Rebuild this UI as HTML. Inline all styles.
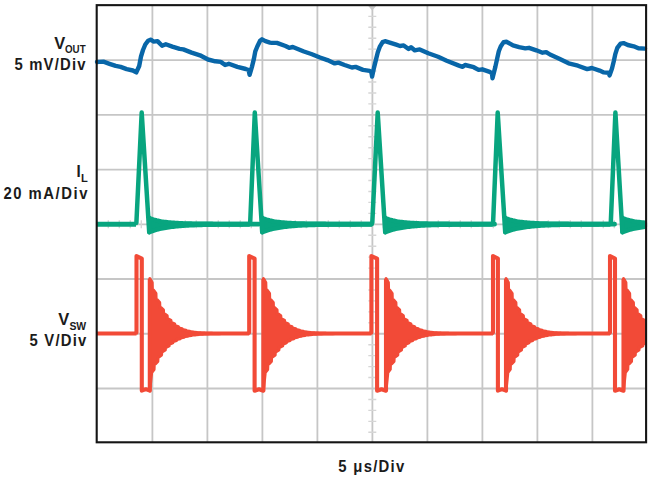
<!DOCTYPE html>
<html><head><meta charset="utf-8"><style>
html,body{margin:0;padding:0;background:#fff;width:651px;height:480px;overflow:hidden}
svg{display:block}
text{font-family:"Liberation Sans",sans-serif}
</style></head><body>
<svg width="651" height="480" viewBox="0 0 651 480">
<path d="M152.4 5.15V442.3M207.4 5.15V442.3M262.4 5.15V442.3M317.4 5.15V442.3M372.4 5.15V442.3M427.4 5.15V442.3M482.4 5.15V442.3M537.4 5.15V442.3M592.4 5.15V442.3M96.7 60.1H646.1M96.7 114.83H646.1M96.7 169.56H646.1M96.7 224.29H646.1M96.7 279.02H646.1M96.7 333.75H646.1M96.7 388.48H646.1" stroke="#c6c6c6" stroke-width="1.8" fill="none"/><path d="M368.3 16.33H376.3M368.3 27.27H376.3M368.3 38.22H376.3M368.3 49.16H376.3M368.3 71.06H376.3M368.3 82H376.3M368.3 92.95H376.3M368.3 103.89H376.3M368.3 125.79H376.3M368.3 136.73H376.3M368.3 147.68H376.3M368.3 158.62H376.3M368.3 180.52H376.3M368.3 191.46H376.3M368.3 202.41H376.3M368.3 213.35H376.3M368.3 235.25H376.3M368.3 246.19H376.3M368.3 257.14H376.3M368.3 268.08H376.3M368.3 289.98H376.3M368.3 300.92H376.3M368.3 311.87H376.3M368.3 322.81H376.3M368.3 344.71H376.3M368.3 355.65H376.3M368.3 366.6H376.3M368.3 377.54H376.3M368.3 399.44H376.3M368.3 410.38H376.3M368.3 421.33H376.3M368.3 432.27H376.3M108.3 220.3V228.3M119.3 220.3V228.3M130.3 220.3V228.3M141.3 220.3V228.3M163.3 220.3V228.3M174.3 220.3V228.3M185.3 220.3V228.3M196.3 220.3V228.3M218.3 220.3V228.3M229.3 220.3V228.3M240.3 220.3V228.3M251.3 220.3V228.3M273.3 220.3V228.3M284.3 220.3V228.3M295.3 220.3V228.3M306.3 220.3V228.3M328.3 220.3V228.3M339.3 220.3V228.3M350.3 220.3V228.3M361.3 220.3V228.3M383.3 220.3V228.3M394.3 220.3V228.3M405.3 220.3V228.3M416.3 220.3V228.3M438.3 220.3V228.3M449.3 220.3V228.3M460.3 220.3V228.3M471.3 220.3V228.3M493.3 220.3V228.3M504.3 220.3V228.3M515.3 220.3V228.3M526.3 220.3V228.3M548.3 220.3V228.3M559.3 220.3V228.3M570.3 220.3V228.3M581.3 220.3V228.3M603.3 220.3V228.3M614.3 220.3V228.3M625.3 220.3V228.3M636.3 220.3V228.3" stroke="#d6d6d6" stroke-width="1.4" fill="none"/><polyline points="97,62 99.1,61.9 103.4,61.7 109.5,63.8 115.7,65.9 120.6,66.9 126.7,69.1 132.9,70.5 136.3,72.4 139.2,66 141,56.5 143,50 145.3,44.5 148.1,40.7 151,39.6 153.5,41.6 157.5,41.1 162.1,45.7 165.8,44.3 172.3,46.6 179.6,48.9 183.3,49.4 191.6,52.6 200,55.3 208,59.5 215.3,61.3 220.8,61.9 225.1,65 228.8,63.8 237.4,66.9 245.75,69 248.6,70 249.6,74.8 252,66.6 253.9,58.9 255.3,51.3 257.3,46.5 260.1,40.7 262,39.3 265.4,41.2 270,42.6 272,42.9 276.9,42.9 285.5,46 289.1,47.8 292.8,47 303.9,51.5 311.3,54 320,57.5 327.4,60.1 334.7,63.4 338.4,62.6 344.6,65 351.9,67.5 355.6,66.9 363,69.9 369.7,70.9 371.4,72.2 372.1,76.6 374,67.6 375.9,59.9 377.8,52.2 379.7,46.9 382.6,42.1 385,41.2 389.8,42.6 396.2,44.7 400,46 403.7,45.4 408.6,49 411,47.2 414.7,50.3 419.7,49.4 428.3,53.3 438.1,56.8 446.7,60.7 459,65.6 462.7,66.9 465.1,65 473.7,67.2 478.6,69.9 482.3,69.3 489.7,71.9 492,73.3 492.5,78.3 495.4,66.6 497.3,58 498.8,51.3 500.7,46.5 503.6,42.1 506.4,41.7 510.8,44.1 513,45.4 519.1,47.2 525.3,48.4 529,47.8 536.3,50.3 542.5,52.7 546.2,52.1 550,54.5 559.3,58.7 568.6,63.3 577.9,65.7 587.2,69.1 591.9,68 599.6,70.6 603.8,72.4 608.6,72.8 609.6,75.4 612,68.5 613.9,60.8 615.3,54.1 617.3,47.9 620.6,43.6 623.5,43.1 627.8,45 633.7,46.3 638.4,48.3 645,48.6" stroke="#0866a8" stroke-width="4.4" fill="none" stroke-linejoin="round" stroke-linecap="round"/><path d="M97 224.15H136M149.2 224.15H249.8M262.2 224.15H371.9M385.2 224.15H492.7M505.2 224.15H610.4M622.4 224.15H645.5" stroke="#08a57f" stroke-width="5" fill="none"/><polyline points="135.2,224.15 136.4,222.65 141.7,112.6 149.2,232.2 149.7,230" fill="none" stroke="#08a57f" stroke-width="4.5" stroke-linejoin="round"/><polygon points="149.2,217.85 150.7,218.48 152.2,219.03 153.7,219.53 155.2,219.98 156.7,220.38 158.2,220.73 159.7,221.05 161.2,221.34 162.7,221.59 164.2,221.82 165.7,222.02 167.2,222.21 168.7,222.37 170.2,222.52 171.7,222.65 173.2,222.77 174.7,222.88 176.2,222.97 177.7,223.06 179.2,223.14 180.7,223.21 182.2,223.27 183.7,223.33 185.2,223.38 186.7,223.43 188.2,223.47 189.7,223.51 191.2,223.54 192.7,223.58 194.2,223.61 195.7,223.63 197.2,223.66 198.7,223.68 200.2,223.7 201.7,223.72 203.2,223.74 204.7,223.75 206.2,223.77 207.7,223.78 209.2,223.8 210.7,223.81 212.2,223.82 213.7,223.83 215.2,223.84 216.7,223.85 218.2,223.86 219.7,223.87 221.2,223.88 222.7,223.89 224.2,223.89 225.7,223.9 227.2,223.91 228.7,223.91 230.2,223.92 231.7,223.92 233.2,223.93 234.7,223.94 236.2,223.94 237.7,223.95 239.2,223.95 240.7,223.96 242.2,223.96 243.7,223.96 245.2,223.97 246.7,223.97 248.2,223.98 249.7,223.98 251.2,223.98 252.7,223.99 254.2,223.99 255.7,224 257.2,224 258.7,224 258.7,224.35 257.2,224.36 255.7,224.37 254.2,224.37 252.7,224.38 251.2,224.38 249.7,224.39 248.2,224.4 246.7,224.41 245.2,224.41 243.7,224.42 242.2,224.43 240.7,224.44 239.2,224.45 237.7,224.46 236.2,224.47 234.7,224.48 233.2,224.49 231.7,224.5 230.2,224.51 228.7,224.53 227.2,224.54 225.7,224.55 224.2,224.57 222.7,224.59 221.2,224.6 219.7,224.62 218.2,224.64 216.7,224.66 215.2,224.68 213.7,224.71 212.2,224.73 210.7,224.76 209.2,224.79 207.7,224.82 206.2,224.85 204.7,224.89 203.2,224.92 201.7,224.96 200.2,225.01 198.7,225.05 197.2,225.1 195.7,225.16 194.2,225.21 192.7,225.28 191.2,225.34 189.7,225.41 188.2,225.49 186.7,225.57 185.2,225.66 183.7,225.76 182.2,225.86 180.7,225.98 179.2,226.1 177.7,226.23 176.2,226.37 174.7,226.52 173.2,226.69 171.7,226.87 170.2,227.06 168.7,227.27 167.2,227.49 165.7,227.74 164.2,228.01 162.7,228.29 161.2,228.6 159.7,228.94 158.2,229.31 156.7,229.71 155.2,230.14 153.7,230.6 152.2,231.11 150.7,231.66 149.2,232.25" fill="#08a57f" stroke="#08a57f" stroke-width="4.4" stroke-linejoin="round"/><polyline points="249,224.15 250.2,222.65 254.8,112.6 262.2,232.2 262.7,230" fill="none" stroke="#08a57f" stroke-width="4.5" stroke-linejoin="round"/><polygon points="262.2,217.85 263.7,218.48 265.2,219.03 266.7,219.53 268.2,219.98 269.7,220.38 271.2,220.73 272.7,221.05 274.2,221.34 275.7,221.59 277.2,221.82 278.7,222.02 280.2,222.21 281.7,222.37 283.2,222.52 284.7,222.65 286.2,222.77 287.7,222.88 289.2,222.97 290.7,223.06 292.2,223.14 293.7,223.21 295.2,223.27 296.7,223.33 298.2,223.38 299.7,223.43 301.2,223.47 302.7,223.51 304.2,223.54 305.7,223.58 307.2,223.61 308.7,223.63 310.2,223.66 311.7,223.68 313.2,223.7 314.7,223.72 316.2,223.74 317.7,223.75 319.2,223.77 320.7,223.78 322.2,223.8 323.7,223.81 325.2,223.82 326.7,223.83 328.2,223.84 329.7,223.85 331.2,223.86 332.7,223.87 334.2,223.88 335.7,223.89 337.2,223.89 338.7,223.9 340.2,223.91 341.7,223.91 343.2,223.92 344.7,223.92 346.2,223.93 347.7,223.94 349.2,223.94 350.7,223.95 352.2,223.95 353.7,223.96 355.2,223.96 356.7,223.96 358.2,223.97 359.7,223.97 361.2,223.98 362.7,223.98 364.2,223.98 365.7,223.99 367.2,223.99 368.7,224 370.2,224 371.7,224 371.7,224.35 370.2,224.36 368.7,224.37 367.2,224.37 365.7,224.38 364.2,224.38 362.7,224.39 361.2,224.4 359.7,224.41 358.2,224.41 356.7,224.42 355.2,224.43 353.7,224.44 352.2,224.45 350.7,224.46 349.2,224.47 347.7,224.48 346.2,224.49 344.7,224.5 343.2,224.51 341.7,224.53 340.2,224.54 338.7,224.55 337.2,224.57 335.7,224.59 334.2,224.6 332.7,224.62 331.2,224.64 329.7,224.66 328.2,224.68 326.7,224.71 325.2,224.73 323.7,224.76 322.2,224.79 320.7,224.82 319.2,224.85 317.7,224.89 316.2,224.92 314.7,224.96 313.2,225.01 311.7,225.05 310.2,225.1 308.7,225.16 307.2,225.21 305.7,225.28 304.2,225.34 302.7,225.41 301.2,225.49 299.7,225.57 298.2,225.66 296.7,225.76 295.2,225.86 293.7,225.98 292.2,226.1 290.7,226.23 289.2,226.37 287.7,226.52 286.2,226.69 284.7,226.87 283.2,227.06 281.7,227.27 280.2,227.49 278.7,227.74 277.2,228.01 275.7,228.29 274.2,228.6 272.7,228.94 271.2,229.31 269.7,229.71 268.2,230.14 266.7,230.6 265.2,231.11 263.7,231.66 262.2,232.25" fill="#08a57f" stroke="#08a57f" stroke-width="4.4" stroke-linejoin="round"/><polyline points="371.1,224.15 372.3,222.65 377.7,112.6 385.2,232.2 385.7,230" fill="none" stroke="#08a57f" stroke-width="4.5" stroke-linejoin="round"/><polygon points="385.2,217.85 386.7,218.48 388.2,219.03 389.7,219.53 391.2,219.98 392.7,220.38 394.2,220.73 395.7,221.05 397.2,221.34 398.7,221.59 400.2,221.82 401.7,222.02 403.2,222.21 404.7,222.37 406.2,222.52 407.7,222.65 409.2,222.77 410.7,222.88 412.2,222.97 413.7,223.06 415.2,223.14 416.7,223.21 418.2,223.27 419.7,223.33 421.2,223.38 422.7,223.43 424.2,223.47 425.7,223.51 427.2,223.54 428.7,223.58 430.2,223.61 431.7,223.63 433.2,223.66 434.7,223.68 436.2,223.7 437.7,223.72 439.2,223.74 440.7,223.75 442.2,223.77 443.7,223.78 445.2,223.8 446.7,223.81 448.2,223.82 449.7,223.83 451.2,223.84 452.7,223.85 454.2,223.86 455.7,223.87 457.2,223.88 458.7,223.89 460.2,223.89 461.7,223.9 463.2,223.91 464.7,223.91 466.2,223.92 467.7,223.92 469.2,223.93 470.7,223.94 472.2,223.94 473.7,223.95 475.2,223.95 476.7,223.96 478.2,223.96 479.7,223.96 481.2,223.97 482.7,223.97 484.2,223.98 485.7,223.98 487.2,223.98 488.7,223.99 490.2,223.99 491.7,224 493.2,224 494.7,224 494.7,224.35 493.2,224.36 491.7,224.37 490.2,224.37 488.7,224.38 487.2,224.38 485.7,224.39 484.2,224.4 482.7,224.41 481.2,224.41 479.7,224.42 478.2,224.43 476.7,224.44 475.2,224.45 473.7,224.46 472.2,224.47 470.7,224.48 469.2,224.49 467.7,224.5 466.2,224.51 464.7,224.53 463.2,224.54 461.7,224.55 460.2,224.57 458.7,224.59 457.2,224.6 455.7,224.62 454.2,224.64 452.7,224.66 451.2,224.68 449.7,224.71 448.2,224.73 446.7,224.76 445.2,224.79 443.7,224.82 442.2,224.85 440.7,224.89 439.2,224.92 437.7,224.96 436.2,225.01 434.7,225.05 433.2,225.1 431.7,225.16 430.2,225.21 428.7,225.28 427.2,225.34 425.7,225.41 424.2,225.49 422.7,225.57 421.2,225.66 419.7,225.76 418.2,225.86 416.7,225.98 415.2,226.1 413.7,226.23 412.2,226.37 410.7,226.52 409.2,226.69 407.7,226.87 406.2,227.06 404.7,227.27 403.2,227.49 401.7,227.74 400.2,228.01 398.7,228.29 397.2,228.6 395.7,228.94 394.2,229.31 392.7,229.71 391.2,230.14 389.7,230.6 388.2,231.11 386.7,231.66 385.2,232.25" fill="#08a57f" stroke="#08a57f" stroke-width="4.4" stroke-linejoin="round"/><polyline points="491.9,224.15 493.1,222.65 497.7,112.6 505.2,232.2 505.7,230" fill="none" stroke="#08a57f" stroke-width="4.5" stroke-linejoin="round"/><polygon points="505.2,217.85 506.7,218.48 508.2,219.03 509.7,219.53 511.2,219.98 512.7,220.38 514.2,220.73 515.7,221.05 517.2,221.34 518.7,221.59 520.2,221.82 521.7,222.02 523.2,222.21 524.7,222.37 526.2,222.52 527.7,222.65 529.2,222.77 530.7,222.88 532.2,222.97 533.7,223.06 535.2,223.14 536.7,223.21 538.2,223.27 539.7,223.33 541.2,223.38 542.7,223.43 544.2,223.47 545.7,223.51 547.2,223.54 548.7,223.58 550.2,223.61 551.7,223.63 553.2,223.66 554.7,223.68 556.2,223.7 557.7,223.72 559.2,223.74 560.7,223.75 562.2,223.77 563.7,223.78 565.2,223.8 566.7,223.81 568.2,223.82 569.7,223.83 571.2,223.84 572.7,223.85 574.2,223.86 575.7,223.87 577.2,223.88 578.7,223.89 580.2,223.89 581.7,223.9 583.2,223.91 584.7,223.91 586.2,223.92 587.7,223.92 589.2,223.93 590.7,223.94 592.2,223.94 593.7,223.95 595.2,223.95 596.7,223.96 598.2,223.96 599.7,223.96 601.2,223.97 602.7,223.97 604.2,223.98 605.7,223.98 607.2,223.98 608.7,223.99 610.2,223.99 611.7,224 613.2,224 614.7,224 614.7,224.35 613.2,224.36 611.7,224.37 610.2,224.37 608.7,224.38 607.2,224.38 605.7,224.39 604.2,224.4 602.7,224.41 601.2,224.41 599.7,224.42 598.2,224.43 596.7,224.44 595.2,224.45 593.7,224.46 592.2,224.47 590.7,224.48 589.2,224.49 587.7,224.5 586.2,224.51 584.7,224.53 583.2,224.54 581.7,224.55 580.2,224.57 578.7,224.59 577.2,224.6 575.7,224.62 574.2,224.64 572.7,224.66 571.2,224.68 569.7,224.71 568.2,224.73 566.7,224.76 565.2,224.79 563.7,224.82 562.2,224.85 560.7,224.89 559.2,224.92 557.7,224.96 556.2,225.01 554.7,225.05 553.2,225.1 551.7,225.16 550.2,225.21 548.7,225.28 547.2,225.34 545.7,225.41 544.2,225.49 542.7,225.57 541.2,225.66 539.7,225.76 538.2,225.86 536.7,225.98 535.2,226.1 533.7,226.23 532.2,226.37 530.7,226.52 529.2,226.69 527.7,226.87 526.2,227.06 524.7,227.27 523.2,227.49 521.7,227.74 520.2,228.01 518.7,228.29 517.2,228.6 515.7,228.94 514.2,229.31 512.7,229.71 511.2,230.14 509.7,230.6 508.2,231.11 506.7,231.66 505.2,232.25" fill="#08a57f" stroke="#08a57f" stroke-width="4.4" stroke-linejoin="round"/><polyline points="609.6,224.15 610.8,222.65 615.4,112.6 622.4,232.2 622.9,230" fill="none" stroke="#08a57f" stroke-width="4.5" stroke-linejoin="round"/><polygon points="622.4,217.85 623.9,218.48 625.4,219.03 626.9,219.53 628.4,219.98 629.9,220.38 631.4,220.73 632.9,221.05 634.4,221.34 635.9,221.59 637.4,221.82 638.9,222.02 640.4,222.21 641.9,222.37 643.4,222.52 644.9,222.65 644.9,226.87 643.4,227.06 641.9,227.27 640.4,227.49 638.9,227.74 637.4,228.01 635.9,228.29 634.4,228.6 632.9,228.94 631.4,229.31 629.9,229.71 628.4,230.14 626.9,230.6 625.4,231.11 623.9,231.66 622.4,232.25" fill="#08a57f" stroke="#08a57f" stroke-width="4.4" stroke-linejoin="round"/><path d="M97 333.5H136.5M149.8 333.5H249.2M263.4 333.5H371.4M386 333.5H493M506 333.5H610M623.5 333.5H645.5" stroke="#f24a37" stroke-width="3.8" fill="none"/><polyline points="135.5,333.5 136.5,332.5 136.5,256 141.8,258.6 141.8,390.7 145.8,389.2 149.8,390.7 149.8,279" stroke="#f24a37" stroke-width="4.1" fill="none" stroke-linejoin="round"/><polygon points="149.8,278.5 152.2,282.54 152.4,290.03 153.55,290.03 155.95,293.41 156.15,299.69 157.3,299.69 159.7,302.46 159.9,307.61 161.05,307.61 163.45,309.85 163.65,313.99 164.8,313.99 167.2,315.76 167.4,319.04 168.55,319.04 170.95,320.4 171.15,322.94 172.3,322.94 174.7,323.98 174.9,325.92 176.05,325.92 178.45,326.7 178.65,328.14 179.8,328.14 182.2,328.71 182.4,329.77 183.55,329.77 185.95,330.18 186.15,330.95 187.3,330.95 189.7,331.24 189.9,331.78 191.05,331.78 193.45,331.98 193.65,332.36 194.8,332.36 197.2,332.5 197.4,332.76 198.55,332.76 200.95,332.85 201.15,333.02 202.3,333.02 204.7,333.08 204.9,333.2 206.05,333.2 208.45,333.24 208.65,333.31 209.8,333.31 212.2,333.34 212.4,333.38 213.55,333.38 215.95,333.4 216.15,333.43 217.3,333.43 219.7,333.44 219.9,333.46 221.05,333.46 223.45,333.46 223.65,333.48 224.8,333.48 227.2,333.48 227.4,333.49 228.55,333.49 230.95,333.49 231.15,333.49 232.3,333.49 234.7,333.49 234.9,333.5 236.05,333.5 238.45,333.5 238.65,333.5 239.8,333.5 242.2,333.5 242.4,333.5 243.55,333.5 245.95,333.5 246.15,333.5 248.03,333.5 247.83,333.51 245.43,333.51 244.28,333.51 244.08,333.51 241.68,333.51 240.53,333.51 240.33,333.52 237.93,333.52 236.78,333.52 236.58,333.52 234.18,333.53 233.03,333.53 232.83,333.54 230.43,333.54 229.28,333.54 229.08,333.55 226.68,333.56 225.53,333.56 225.33,333.58 222.93,333.59 221.78,333.59 221.58,333.62 219.18,333.63 218.03,333.63 217.83,333.67 215.43,333.69 214.28,333.69 214.08,333.75 211.68,333.78 210.53,333.78 210.33,333.86 207.93,333.9 206.78,333.9 206.58,334.02 204.18,334.08 203.03,334.08 202.83,334.24 200.43,334.32 199.28,334.32 199.08,334.54 196.68,334.66 195.53,334.66 195.33,334.96 192.93,335.12 191.78,335.12 191.58,335.53 189.18,335.76 188.03,335.76 187.83,336.31 185.43,336.61 184.28,336.61 184.08,337.35 181.68,337.74 180.53,337.74 180.33,338.73 177.93,339.25 176.78,339.25 176.58,340.55 174.18,341.24 173.03,341.24 172.83,342.93 170.43,343.83 169.28,343.83 169.08,346.01 166.68,347.19 165.53,347.19 165.33,349.98 162.93,351.49 161.78,351.49 161.58,355.04 159.18,356.95 158.03,356.95 157.83,361.43 155.43,363.84 154.28,363.84 154.08,369.44 151.68,372.45 149.8,390.7" fill="#f24a37" stroke="#f24a37" stroke-width="3" stroke-linejoin="round"/><polyline points="248.2,333.5 249.2,332.5 249.2,256 254.6,258.6 254.6,390.7 259,389.2 263.4,390.7 263.4,279" stroke="#f24a37" stroke-width="4.1" fill="none" stroke-linejoin="round"/><polygon points="263.4,278.5 265.8,282.54 266,290.03 267.15,290.03 269.55,293.41 269.75,299.69 270.9,299.69 273.3,302.46 273.5,307.61 274.65,307.61 277.05,309.85 277.25,313.99 278.4,313.99 280.8,315.76 281,319.04 282.15,319.04 284.55,320.4 284.75,322.94 285.9,322.94 288.3,323.98 288.5,325.92 289.65,325.92 292.05,326.7 292.25,328.14 293.4,328.14 295.8,328.71 296,329.77 297.15,329.77 299.55,330.18 299.75,330.95 300.9,330.95 303.3,331.24 303.5,331.78 304.65,331.78 307.05,331.98 307.25,332.36 308.4,332.36 310.8,332.5 311,332.76 312.15,332.76 314.55,332.85 314.75,333.02 315.9,333.02 318.3,333.08 318.5,333.2 319.65,333.2 322.05,333.24 322.25,333.31 323.4,333.31 325.8,333.34 326,333.38 327.15,333.38 329.55,333.4 329.75,333.43 330.9,333.43 333.3,333.44 333.5,333.46 334.65,333.46 337.05,333.46 337.25,333.48 338.4,333.48 340.8,333.48 341,333.49 342.15,333.49 344.55,333.49 344.75,333.49 345.9,333.49 348.3,333.49 348.5,333.5 349.65,333.5 352.05,333.5 352.25,333.5 353.4,333.5 355.8,333.5 356,333.5 357.15,333.5 359.55,333.5 359.75,333.5 361.62,333.5 361.42,333.51 359.02,333.51 357.88,333.51 357.67,333.51 355.27,333.51 354.12,333.51 353.92,333.52 351.52,333.52 350.38,333.52 350.17,333.52 347.77,333.53 346.62,333.53 346.42,333.54 344.02,333.54 342.88,333.54 342.67,333.55 340.27,333.56 339.12,333.56 338.92,333.58 336.52,333.59 335.38,333.59 335.17,333.62 332.77,333.63 331.62,333.63 331.42,333.67 329.02,333.69 327.88,333.69 327.67,333.75 325.27,333.78 324.12,333.78 323.92,333.86 321.52,333.9 320.38,333.9 320.17,334.02 317.77,334.08 316.62,334.08 316.42,334.24 314.02,334.32 312.88,334.32 312.67,334.54 310.27,334.66 309.12,334.66 308.92,334.96 306.52,335.12 305.38,335.12 305.17,335.53 302.77,335.76 301.62,335.76 301.42,336.31 299.02,336.61 297.88,336.61 297.67,337.35 295.27,337.74 294.12,337.74 293.92,338.73 291.52,339.25 290.38,339.25 290.17,340.55 287.77,341.24 286.62,341.24 286.42,342.93 284.02,343.83 282.88,343.83 282.67,346.01 280.27,347.19 279.12,347.19 278.92,349.98 276.52,351.49 275.38,351.49 275.17,355.04 272.77,356.95 271.62,356.95 271.42,361.43 269.02,363.84 267.88,363.84 267.67,369.44 265.27,372.45 263.4,390.7" fill="#f24a37" stroke="#f24a37" stroke-width="3" stroke-linejoin="round"/><polyline points="370.4,333.5 371.4,332.5 371.4,256 377.1,258.6 377.1,390.7 381.55,389.2 386,390.7 386,279" stroke="#f24a37" stroke-width="4.1" fill="none" stroke-linejoin="round"/><polygon points="386,278.5 388.4,282.54 388.6,290.03 389.75,290.03 392.15,293.41 392.35,299.69 393.5,299.69 395.9,302.46 396.1,307.61 397.25,307.61 399.65,309.85 399.85,313.99 401,313.99 403.4,315.76 403.6,319.04 404.75,319.04 407.15,320.4 407.35,322.94 408.5,322.94 410.9,323.98 411.1,325.92 412.25,325.92 414.65,326.7 414.85,328.14 416,328.14 418.4,328.71 418.6,329.77 419.75,329.77 422.15,330.18 422.35,330.95 423.5,330.95 425.9,331.24 426.1,331.78 427.25,331.78 429.65,331.98 429.85,332.36 431,332.36 433.4,332.5 433.6,332.76 434.75,332.76 437.15,332.85 437.35,333.02 438.5,333.02 440.9,333.08 441.1,333.2 442.25,333.2 444.65,333.24 444.85,333.31 446,333.31 448.4,333.34 448.6,333.38 449.75,333.38 452.15,333.4 452.35,333.43 453.5,333.43 455.9,333.44 456.1,333.46 457.25,333.46 459.65,333.46 459.85,333.48 461,333.48 463.4,333.48 463.6,333.49 464.75,333.49 467.15,333.49 467.35,333.49 468.5,333.49 470.9,333.49 471.1,333.5 472.25,333.5 474.65,333.5 474.85,333.5 476,333.5 478.4,333.5 478.6,333.5 479.75,333.5 482.15,333.5 482.35,333.5 484.23,333.5 484.02,333.51 481.62,333.51 480.48,333.51 480.27,333.51 477.88,333.51 476.73,333.51 476.52,333.52 474.12,333.52 472.98,333.52 472.77,333.52 470.38,333.53 469.23,333.53 469.02,333.54 466.62,333.54 465.48,333.54 465.27,333.55 462.88,333.56 461.73,333.56 461.52,333.58 459.12,333.59 457.98,333.59 457.77,333.62 455.38,333.63 454.23,333.63 454.02,333.67 451.62,333.69 450.48,333.69 450.27,333.75 447.88,333.78 446.73,333.78 446.52,333.86 444.12,333.9 442.98,333.9 442.77,334.02 440.38,334.08 439.23,334.08 439.02,334.24 436.62,334.32 435.48,334.32 435.27,334.54 432.88,334.66 431.73,334.66 431.52,334.96 429.12,335.12 427.98,335.12 427.77,335.53 425.38,335.76 424.23,335.76 424.02,336.31 421.62,336.61 420.48,336.61 420.27,337.35 417.88,337.74 416.73,337.74 416.52,338.73 414.12,339.25 412.98,339.25 412.77,340.55 410.38,341.24 409.23,341.24 409.02,342.93 406.62,343.83 405.48,343.83 405.27,346.01 402.88,347.19 401.73,347.19 401.52,349.98 399.12,351.49 397.98,351.49 397.77,355.04 395.38,356.95 394.23,356.95 394.02,361.43 391.62,363.84 390.48,363.84 390.27,369.44 387.88,372.45 386,390.7" fill="#f24a37" stroke="#f24a37" stroke-width="3" stroke-linejoin="round"/><polyline points="492,333.5 493,332.5 493,256 497.9,258.6 497.9,390.7 501.95,389.2 506,390.7 506,279" stroke="#f24a37" stroke-width="4.1" fill="none" stroke-linejoin="round"/><polygon points="506,278.5 508.4,282.54 508.6,290.03 509.75,290.03 512.15,293.41 512.35,299.69 513.5,299.69 515.9,302.46 516.1,307.61 517.25,307.61 519.65,309.85 519.85,313.99 521,313.99 523.4,315.76 523.6,319.04 524.75,319.04 527.15,320.4 527.35,322.94 528.5,322.94 530.9,323.98 531.1,325.92 532.25,325.92 534.65,326.7 534.85,328.14 536,328.14 538.4,328.71 538.6,329.77 539.75,329.77 542.15,330.18 542.35,330.95 543.5,330.95 545.9,331.24 546.1,331.78 547.25,331.78 549.65,331.98 549.85,332.36 551,332.36 553.4,332.5 553.6,332.76 554.75,332.76 557.15,332.85 557.35,333.02 558.5,333.02 560.9,333.08 561.1,333.2 562.25,333.2 564.65,333.24 564.85,333.31 566,333.31 568.4,333.34 568.6,333.38 569.75,333.38 572.15,333.4 572.35,333.43 573.5,333.43 575.9,333.44 576.1,333.46 577.25,333.46 579.65,333.46 579.85,333.48 581,333.48 583.4,333.48 583.6,333.49 584.75,333.49 587.15,333.49 587.35,333.49 588.5,333.49 590.9,333.49 591.1,333.5 592.25,333.5 594.65,333.5 594.85,333.5 596,333.5 598.4,333.5 598.6,333.5 599.75,333.5 602.15,333.5 602.35,333.5 604.23,333.5 604.02,333.51 601.62,333.51 600.48,333.51 600.27,333.51 597.88,333.51 596.73,333.51 596.52,333.52 594.12,333.52 592.98,333.52 592.77,333.52 590.38,333.53 589.23,333.53 589.02,333.54 586.62,333.54 585.48,333.54 585.27,333.55 582.88,333.56 581.73,333.56 581.52,333.58 579.12,333.59 577.98,333.59 577.77,333.62 575.38,333.63 574.23,333.63 574.02,333.67 571.62,333.69 570.48,333.69 570.27,333.75 567.88,333.78 566.73,333.78 566.52,333.86 564.12,333.9 562.98,333.9 562.77,334.02 560.38,334.08 559.23,334.08 559.02,334.24 556.62,334.32 555.48,334.32 555.27,334.54 552.88,334.66 551.73,334.66 551.52,334.96 549.12,335.12 547.98,335.12 547.77,335.53 545.38,335.76 544.23,335.76 544.02,336.31 541.62,336.61 540.48,336.61 540.27,337.35 537.88,337.74 536.73,337.74 536.52,338.73 534.12,339.25 532.98,339.25 532.77,340.55 530.38,341.24 529.23,341.24 529.02,342.93 526.62,343.83 525.48,343.83 525.27,346.01 522.88,347.19 521.73,347.19 521.52,349.98 519.12,351.49 517.98,351.49 517.77,355.04 515.38,356.95 514.23,356.95 514.02,361.43 511.62,363.84 510.48,363.84 510.27,369.44 507.88,372.45 506,390.7" fill="#f24a37" stroke="#f24a37" stroke-width="3" stroke-linejoin="round"/><polyline points="609,333.5 610,332.5 610,256 615,258.6 615,390.7 619.25,389.2 623.5,390.7 623.5,279" stroke="#f24a37" stroke-width="4.1" fill="none" stroke-linejoin="round"/><polygon points="623.5,278.5 625.9,282.54 626.1,290.03 627.25,290.03 629.65,293.41 629.85,299.69 631,299.69 633.4,302.46 633.6,307.61 634.75,307.61 637.15,309.85 637.35,313.99 638.5,313.99 640.9,315.76 641.1,319.04 642.25,319.04 644.65,320.4 644.85,322.94 645.3,341.24 645.3,342.93 644.12,343.83 642.98,343.83 642.77,346.01 640.38,347.19 639.23,347.19 639.02,349.98 636.62,351.49 635.48,351.49 635.27,355.04 632.88,356.95 631.73,356.95 631.52,361.43 629.12,363.84 627.98,363.84 627.77,369.44 625.38,372.45 623.5,390.7" fill="#f24a37" stroke="#f24a37" stroke-width="3" stroke-linejoin="round"/><polygon points="368.3,6 376.1,6 372.2,10.6" fill="#c9c9c9"/><rect x="96.7" y="5.15" width="549.4" height="437.15" stroke="#151515" stroke-width="2.1" fill="none"/><g font-family="Liberation Sans, sans-serif" font-weight="bold" fill="#1b1b1b"><text transform="translate(54.3 49) scale(1.0 1)" font-size="16.5" textLength="11" lengthAdjust="spacingAndGlyphs">V</text><text transform="translate(65 52.9) scale(1.0 1)" font-size="11.6" textLength="20.6" lengthAdjust="spacingAndGlyphs">OUT</text><text transform="translate(14.4 70.3) scale(0.9 1)" font-size="16.5" textLength="79.11" lengthAdjust="spacing">5 mV/Div</text><text transform="translate(76.6 177.3) scale(1.0 1)" font-size="16.5" textLength="4.2" lengthAdjust="spacingAndGlyphs">I</text><text transform="translate(81 181.7) scale(1.0 1)" font-size="11.6" textLength="6.8" lengthAdjust="spacingAndGlyphs">L</text><text transform="translate(3.4 199) scale(0.9 1)" font-size="16.5" textLength="93.33" lengthAdjust="spacing">20 mA/Div</text><text transform="translate(58.3 324.9) scale(1.0 1)" font-size="16.5" textLength="11" lengthAdjust="spacingAndGlyphs">V</text><text transform="translate(69.4 329.9) scale(1.0 1)" font-size="11.6" textLength="16.8" lengthAdjust="spacingAndGlyphs">SW</text><text transform="translate(29.4 346.4) scale(0.9 1)" font-size="16.5" textLength="63.33" lengthAdjust="spacing">5 V/Div</text><text transform="translate(338.3 471.9) scale(0.9 1)" font-size="16.5" textLength="73.33" lengthAdjust="spacing">5 μs/Div</text></g>
</svg>
</body></html>
